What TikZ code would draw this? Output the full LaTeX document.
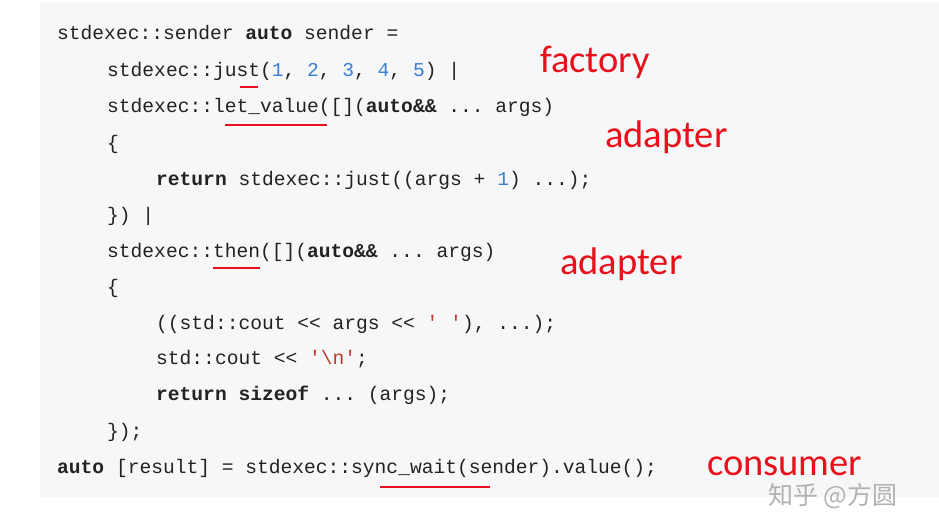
\documentclass[tikz,border=0pt]{standalone}
\usepackage{fontspec}
\setmonofont{Liberation Mono}
\newfontfamily\annfont{Carlito}
\newfontfamily\cjkfont{Noto Sans CJK SC}
\definecolor{bgc}{HTML}{F6F7F8}
\definecolor{codec}{HTML}{222222}
\definecolor{numc}{HTML}{3B7DD8}
\definecolor{strc}{HTML}{C0392B}
\definecolor{annc}{HTML}{E8101A}
\newcommand{\nm}[1]{\textcolor{numc}{#1}}
\newcommand{\st}[1]{\textcolor{strc}{#1}}
\begin{document}
\begin{tikzpicture}[x=1pt,y=-1pt,
  code/.style={anchor=base west,inner sep=0pt,font=\ttfamily\fontsize{19.6}{20}\selectfont,text=codec},
  ann/.style={anchor=base west,inner sep=0pt,font=\annfont\fontsize{38.5}{40}\selectfont,text=annc},
  uline/.style={draw=annc,line width=2.6pt}]
\useasboundingbox (0,0) rectangle (939,530);
\fill[bgc] (40,2) rectangle (939,497);
\node[code] (l1) at (57,39) {stdexec::sender \textbf{auto} sender =};
\node[code] (l2) at (107,76) {stdexec::just(\nm{1}, \nm{2}, \nm{3}, \nm{4}, \nm{5}) |};
\node[code] (l3) at (107,112) {stdexec::let\_value([](\textbf{auto\&\&} ... args)};
\node[code] (l4) at (107,149) {\{};
\node[code] (l5) at (156,185) {\textbf{return} stdexec::just((args + \nm{1}) ...);};
\node[code] (l6) at (107,221) {\}) |};
\node[code] (l7) at (107,257) {stdexec::then([](\textbf{auto\&\&} ... args)};
\node[code] (l8) at (107,293) {\{};
\node[code] (l9) at (156,329) {((std::cout << args << \st{' '}), ...);};
\node[code] (l10) at (156,364) {std::cout << \st{'\textbackslash n'};};
\node[code] (l11) at (156,400) {\textbf{return} \textbf{sizeof} ... (args);};
\node[code] (l12) at (107,437) {\});};
\node[code] (l13) at (57,473) {\textbf{auto} [result] = stdexec::sync\_wait(sender).value();};
\node[ann] (a1) at (540,72) {factory};
\node[ann] (a2) at (605,147) {adapter};
\node[ann] (a3) at (560,274) {adapter};
\node[ann] (a4) at (707,475) {consumer};
\node[anchor=west,inner sep=0pt,text=black!30,font=\cjkfont\fontsize{25}{27}\selectfont] (wm) at (768,496) {知乎 @方圆};
\coordinate (u1a) at (240,87); \coordinate (u1b) at (258,87);
\coordinate (u2a) at (225,125); \coordinate (u2b) at (327,125);
\coordinate (u3a) at (213,268); \coordinate (u3b) at (260,268);
\coordinate (u4a) at (380,487); \coordinate (u4b) at (490,487);
\draw[uline] (u1a) -- (u1b);
\draw[uline] (u2a) -- (u2b);
\draw[uline] (u3a) -- (u3b);
\draw[uline] (u4a) -- (u4b);
\end{tikzpicture}
\end{document}
